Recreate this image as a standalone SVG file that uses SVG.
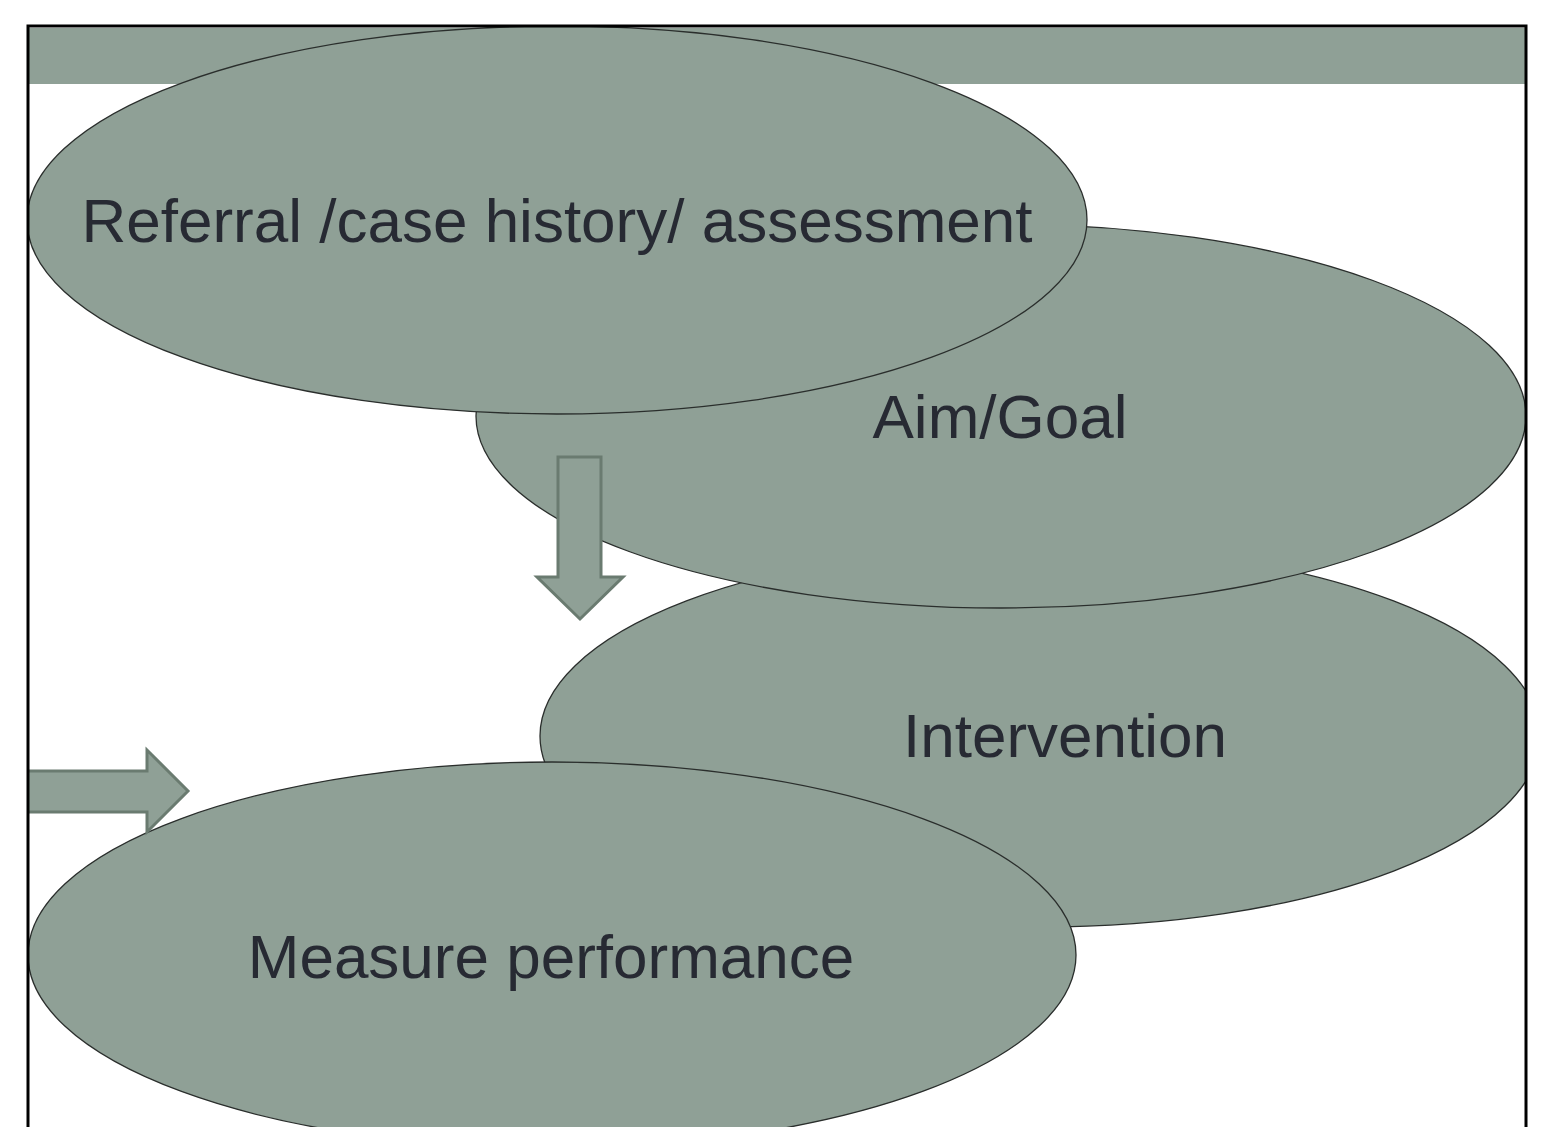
<svg xmlns="http://www.w3.org/2000/svg" width="1543" height="1127" viewBox="0 0 1543 1127">
<style>
.n{fill:#8fa096;stroke:#2a2e2c;stroke-width:1.3}
.t{font-family:"Liberation Sans",Arial,sans-serif;font-size:62px;fill:#272a33;text-anchor:middle}
.a{fill:#8fa096;stroke:#6a7b70;stroke-width:3}
</style>
<defs><clipPath id="c"><rect x="29" y="27" width="1496" height="1100"/></clipPath></defs>
<rect width="1543" height="1127" fill="#fff"/>
<g clip-path="url(#c)">
<rect x="28" y="28" width="1498" height="56" fill="#8fa096"/>
<g id="intervention"><ellipse class="n" cx="1040" cy="736" rx="500" ry="191"/><text class="t" x="1065" y="757">Intervention</text></g>
<g id="aim"><ellipse class="n" cx="1001" cy="416" rx="525" ry="192"/><text class="t" x="1000" y="438">Aim/Goal</text></g>
<g id="referral"><ellipse class="n" cx="557" cy="220" rx="530" ry="194"/><text class="t" x="557" y="242">Referral /case history/ assessment</text></g>
<g id="measure"><ellipse class="n" cx="552" cy="955" rx="524" ry="193"/><text class="t" x="551" y="978">Measure performance</text></g>
<g id="connectors">
<polygon class="a" points="558,457 601,457 601,577 623,577 580,619 537,577 558,577"/>
<polygon class="a" points="20,771 147,771 147,750 188,791 147,832 147,812 20,812"/>
</g>
</g>
<rect x="28" y="26" width="1498" height="1110" fill="none" stroke="#000" stroke-width="3"/>
</svg>
